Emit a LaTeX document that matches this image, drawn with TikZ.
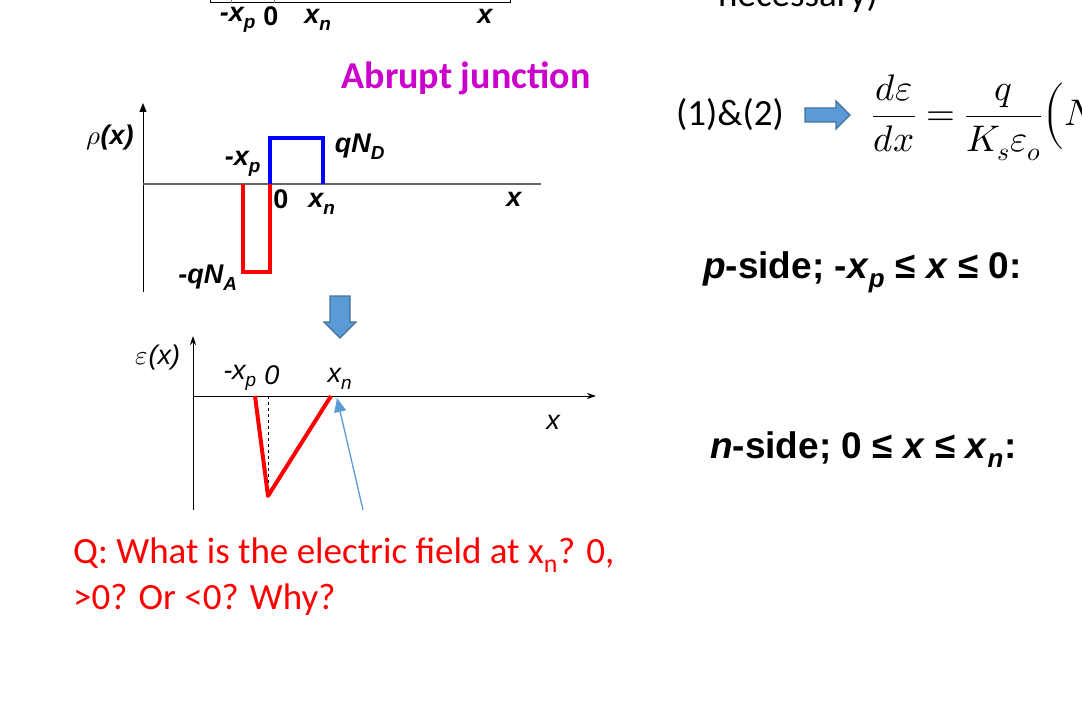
\documentclass[tikz,border=0pt]{standalone}
\usepackage{fontspec}
\setmainfont{Carlito}
\newfontfamily\arial{Liberation Sans}
\usepackage{unicode-math}
\setmathfont{Latin Modern Math}
\usetikzlibrary{arrows.meta}
\definecolor{blk}{RGB}{91,155,213}
\definecolor{blkb}{RGB}{65,113,156}
\definecolor{mag}{RGB}{204,0,204}
\tikzset{
 lab/.style={font=\arial\bfseries\itshape\fontsize{27}{30}\selectfont, inner sep=0pt},
 labi/.style={font=\arial\itshape\fontsize{27}{30}\selectfont, inner sep=0pt},
 txt/.style={font=\fontsize{37}{42}\selectfont, inner sep=0pt, anchor=west},
 big/.style={font=\arial\bfseries\fontsize{37}{42}\selectfont, inner sep=0pt, anchor=west},
 ax/.style={line width=1pt},
 blockarr/.style={draw=blkb, fill=blk, line width=1.2pt, line join=miter},
}
\begin{document}
\begin{tikzpicture}[x=1pt,y=-1pt]
\useasboundingbox (0,0) rectangle (1082,706);
\clip (0,0) rectangle (1082,706);
% top cut figure
\draw[ax] (210,-20) -- (210,3) -- (510,3) -- (510,-20);
\draw[ax,gray] (231,3) -- (231,-10) (274,3)--(274,-10);
\node[lab] (t1) at (238,20) {-x\textsubscript{p}};
\node[lab,font=\arial\bfseries\fontsize{27}{30}\selectfont] (t2) at (271,16) {0};
\node[lab] (t3) at (318,20) {x\textsubscript{n}};
\node[lab] (t4) at (485,16) {x};
\node[txt] (nec) at (718,-4) {necessary)};
% Abrupt junction
\node[font=\bfseries\fontsize{38}{42}\selectfont, text=mag, inner sep=0pt] (abr) at (466,78) {Abrupt junction};
% rho plot
\draw[ax,-{Triangle[length=9pt,width=7pt]}] (143,292) -- (143,103);
\draw[line width=1.2pt,gray!80!black] (143,184) -- (541,184);
\draw[red,line width=3.5pt] (243,184) -- (243,272) -- (270,272) -- (270,184);
\draw[blue,line width=3.5pt] (270,184) -- (270,138) -- (323,138) -- (323,184);
\node[lab] (rho) at (110,138) {$\rho$(x)};
\node[lab] (mxp) at (243,164) {-x\textsubscript{p}};
\node[lab] (qnd) at (360,147) {qN\textsubscript{D}};
\node[lab,font=\arial\bfseries\fontsize{27}{30}\selectfont] (z1) at (281,199) {0};
\node[lab] (xn1) at (322,204) {x\textsubscript{n}};
\node[lab] (x1) at (514,199) {x};
\node[lab] (qna) at (208,278) {-qN\textsubscript{A}};
% down block arrow
\draw[blockarr] (330,296) -- (350,296) -- (350,322) -- (356,322) -- (340,338) -- (324,322) -- (330,322) -- cycle;
% E plot
\draw[ax,-{Stealth[length=9pt,width=6pt]}] (193,510) -- (193,336);
\draw[ax,-{Stealth[length=9pt,width=6pt]}] (193,396) -- (596,396);
\draw[dashed,line width=0.8pt] (268,396) -- (268,496);
\draw[red,line width=4pt,line join=round] (255,396) -- (268,496) -- (331,396);
\node[labi] (eps) at (158,358) {$\varepsilon$(x)};
\node[labi] (mxp2) at (240,378) {-x\textsubscript{p}};
\node[labi] (z2) at (272,375) {0};
\node[labi] (xn2) at (340,379) {x\textsubscript{n}};
\node[labi] (x2) at (553,422) {x};
\coordinate (qa) at (363,510);
\coordinate (qb) at (337,398);
\draw[blk,line width=1.3pt,-{Triangle[length=14pt,width=12pt]}] (qa) -- (qb);
% Q text
\node[txt,text=red] (q1) at (73,555) {Q: What is the electric field at x\textsubscript{n}? 0,};
\node[txt,text=red] (q2) at (73,600) {>0? Or <0? Why?};
% equation
\node[txt] (one) at (676,115) {(1)\&(2)};
\draw[blockarr] (805,108) -- (836,108) -- (836,101) -- (850,115) -- (836,129) -- (836,122) -- (805,122) -- cycle;
\node[inner sep=0pt,anchor=west,font=\fontsize{37}{42}\selectfont] (eq) at (872,118) {$\dfrac{d\varepsilon}{dx}=\dfrac{q}{K_s\varepsilon_o}\Bigl(N_D$};
% sides
\node[big] (ps) at (703,272) {\textit{p}-side; -\textit{x}\textsubscript{\textit{p}} ≤ \textit{x} ≤ 0:};
\node[big] (ns) at (710,450) {\textit{n}-side; 0 ≤ \textit{x} ≤ \textit{x}\textsubscript{\textit{n}}:};
\end{tikzpicture}
\end{document}
